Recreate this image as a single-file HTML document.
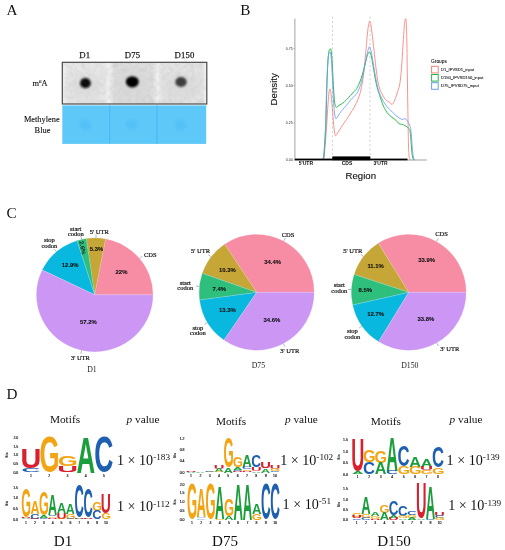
<!DOCTYPE html>
<html lang="en"><head><meta charset="utf-8"><title>Figure</title>
<style>
html,body{margin:0;padding:0;background:#fff;}
body{width:505px;height:550px;overflow:hidden;font-family:"Liberation Serif",serif;}
svg{display:block;}
text{white-space:pre;}
</style></head><body>
<svg width="505" height="550" viewBox="0 0 505 550">
<rect width="505" height="550" fill="#ffffff"/>
<text x="6.50" y="15.00" font-size="15.2" font-family="Liberation Serif, serif" text-anchor="start" font-weight="normal" fill="#111" >A</text>
<text x="240.20" y="15.00" font-size="15.2" font-family="Liberation Serif, serif" text-anchor="start" font-weight="normal" fill="#111" >B</text>
<text x="6.50" y="217.90" font-size="15.2" font-family="Liberation Serif, serif" text-anchor="start" font-weight="normal" fill="#111" >C</text>
<text x="6.40" y="399.30" font-size="15.2" font-family="Liberation Serif, serif" text-anchor="start" font-weight="normal" fill="#111" >D</text>
<defs>
<filter id="blur1" x="-50%" y="-50%" width="200%" height="200%"><feGaussianBlur stdDeviation="0.9"/></filter>
<filter id="blur2" x="-50%" y="-50%" width="200%" height="200%"><feGaussianBlur stdDeviation="1.6"/></filter>
<filter id="blur3" x="-50%" y="-50%" width="200%" height="200%"><feGaussianBlur stdDeviation="3"/></filter>
<linearGradient id="pg" x1="0" x2="1" y1="0" y2="0">
<stop offset="0" stop-color="#ffffff"/><stop offset="0.1" stop-color="#ffffff" stop-opacity="0"/><stop offset="0.9" stop-color="#ffffff" stop-opacity="0"/><stop offset="1" stop-color="#ffffff"/>
</linearGradient>
<filter id="noise" x="0" y="0" width="100%" height="100%"><feTurbulence type="fractalNoise" baseFrequency="0.22" numOctaves="3" seed="7"/><feColorMatrix type="matrix" values="0 0 0 0 0.45  0 0 0 0 0.45  0 0 0 0 0.45  0 0 0 1.1 -0.42"/></filter>
<clipPath id="blotclip"><rect x="62.8" y="62.6" width="143.6" height="40.8"/></clipPath>
</defs>
<rect x="62.3" y="62.3" width="144.5" height="41.7" fill="#e3e3e3"/>
<rect x="62.3" y="62.3" width="47.5" height="41.7" fill="#e7e7e7"/>
<rect x="62.3" y="62.3" width="47.5" height="41.7" fill="url(#pg)" opacity="0.55"/>
<rect x="109.8" y="62.3" width="47.10000000000001" height="41.7" fill="#dcdcdc"/>
<rect x="109.8" y="62.3" width="47.10000000000001" height="41.7" fill="url(#pg)" opacity="0.55"/>
<rect x="156.9" y="62.3" width="49.900000000000006" height="41.7" fill="#e3e3e3"/>
<rect x="156.9" y="62.3" width="49.900000000000006" height="41.7" fill="url(#pg)" opacity="0.55"/>
<g clip-path="url(#blotclip)">
<rect x="62.3" y="62.3" width="144.5" height="41.7" filter="url(#noise)" opacity="0.5"/>
<ellipse cx="85.3" cy="86.8" rx="17" ry="13" fill="#d6d6d6" opacity="0.55" filter="url(#blur3)"/>
<ellipse cx="132.4" cy="85.9" rx="17" ry="13" fill="#d6d6d6" opacity="0.55" filter="url(#blur3)"/>
<ellipse cx="181.8" cy="86.4" rx="17" ry="13" fill="#d6d6d6" opacity="0.55" filter="url(#blur3)"/>
<ellipse cx="85.4" cy="83.2" rx="5.4" ry="5.1" fill="#0c0c0c" filter="url(#blur1)"/>
<ellipse cx="132.3" cy="81.8" rx="6.5" ry="5.6" fill="#050505" filter="url(#blur1)"/>
<ellipse cx="181.0" cy="82.0" rx="5.7" ry="5.0" fill="#3c3c3c" filter="url(#blur1)"/>
</g>
<rect x="62.3" y="62.3" width="144.5" height="41.7" fill="none" stroke="#444" stroke-width="1.15"/>
<rect x="62.3" y="105.4" width="143.89999999999998" height="38.5" fill="#5ec8f9"/>
<line x1="109.8" y1="105.4" x2="109.8" y2="143.9" stroke="#3fb0ee" stroke-width="0.7"/>
<line x1="156.9" y1="105.4" x2="156.9" y2="143.9" stroke="#3fb0ee" stroke-width="0.7"/>
<ellipse cx="85.4" cy="125.0" rx="6.0" ry="5.6" fill="#4fbdf5" opacity="0.6" filter="url(#blur1)"/>
<ellipse cx="131.5" cy="124.4" rx="6.0" ry="5.6" fill="#4fbdf5" opacity="0.6" filter="url(#blur1)"/>
<ellipse cx="180.4" cy="125.0" rx="6.0" ry="5.6" fill="#4fbdf5" opacity="0.6" filter="url(#blur1)"/>
<text x="84.80" y="57.80" font-size="8.7" font-family="Liberation Serif, serif" text-anchor="middle" font-weight="normal" fill="#1a1a1a" stroke="#1a1a1a" stroke-width="0.25" letter-spacing="0.2">D1</text>
<text x="132.50" y="57.80" font-size="8.7" font-family="Liberation Serif, serif" text-anchor="middle" font-weight="normal" fill="#1a1a1a" stroke="#1a1a1a" stroke-width="0.25" letter-spacing="0.2">D75</text>
<text x="184.60" y="57.80" font-size="8.7" font-family="Liberation Serif, serif" text-anchor="middle" font-weight="normal" fill="#1a1a1a" stroke="#1a1a1a" stroke-width="0.25" letter-spacing="0.2">D150</text>
<text x="32.4" y="85.8" font-size="8.4" font-family="Liberation Serif, serif" fill="#111" stroke="#111" stroke-width="0.12">m<tspan font-size="5" dy="-3">6</tspan><tspan dy="3">A</tspan></text>
<text x="41.80" y="122.20" font-size="8.4" font-family="Liberation Serif, serif" text-anchor="middle" font-weight="normal" fill="#111" stroke="#111" stroke-width="0.12">Methylene</text>
<text x="42.50" y="133.20" font-size="8.4" font-family="Liberation Serif, serif" text-anchor="middle" font-weight="normal" fill="#111" stroke="#111" stroke-width="0.12">Blue</text>
<line x1="294.9" y1="18.7" x2="294.9" y2="160.3" stroke="#8a8a8a" stroke-width="0.8"/>
<line x1="294.9" y1="160.0" x2="426.8" y2="160.0" stroke="#8a8a8a" stroke-width="0.8"/>
<line x1="332.5" y1="16.5" x2="332.5" y2="160.0" stroke="#b5b5b5" stroke-width="0.6" stroke-dasharray="2.2 2.2"/>
<line x1="370.0" y1="16.5" x2="370.0" y2="160.0" stroke="#b5b5b5" stroke-width="0.6" stroke-dasharray="2.2 2.2"/>
<text x="292.60" y="49.65" font-size="3.5" font-family="Liberation Sans, sans-serif" text-anchor="end" font-weight="normal" fill="#222" >0.75</text>
<line x1="293.3" y1="48.4" x2="294.9" y2="48.4" stroke="#666" stroke-width="0.4"/>
<text x="292.60" y="86.85" font-size="3.5" font-family="Liberation Sans, sans-serif" text-anchor="end" font-weight="normal" fill="#222" >0.50</text>
<line x1="293.3" y1="85.6" x2="294.9" y2="85.6" stroke="#666" stroke-width="0.4"/>
<text x="292.60" y="124.05" font-size="3.5" font-family="Liberation Sans, sans-serif" text-anchor="end" font-weight="normal" fill="#222" >0.25</text>
<line x1="293.3" y1="122.8" x2="294.9" y2="122.8" stroke="#666" stroke-width="0.4"/>
<text x="292.60" y="161.25" font-size="3.5" font-family="Liberation Sans, sans-serif" text-anchor="end" font-weight="normal" fill="#222" >0.00</text>
<line x1="293.3" y1="160.0" x2="294.9" y2="160.0" stroke="#666" stroke-width="0.4"/>
<path d="M323.30,160.00 C323.45,159.33 323.87,158.83 324.20,156.00 C324.53,153.17 324.90,147.93 325.30,143.00 C325.70,138.07 326.15,132.90 326.60,126.40 C327.05,119.90 327.60,109.73 328.00,104.00 C328.40,98.27 328.70,94.50 329.00,92.00 C329.30,89.50 329.52,89.08 329.80,89.00 C330.08,88.92 330.33,89.00 330.70,91.50 C331.07,94.00 331.52,98.58 332.00,104.00 C332.48,109.42 333.13,119.08 333.60,124.00 C334.07,128.92 334.45,131.53 334.80,133.50 C335.15,135.47 335.33,135.72 335.70,135.80 C336.07,135.88 336.37,134.97 337.00,134.00 C337.63,133.03 338.53,131.53 339.50,130.00 C340.47,128.47 341.63,126.55 342.80,124.80 C343.97,123.05 345.22,121.43 346.50,119.50 C347.78,117.57 349.28,115.12 350.50,113.20 C351.72,111.28 352.77,109.80 353.80,108.00 C354.83,106.20 355.83,104.32 356.70,102.40 C357.57,100.48 358.22,98.95 359.00,96.50 C359.78,94.05 360.65,91.28 361.40,87.70 C362.15,84.12 362.82,80.45 363.50,75.00 C364.18,69.55 364.83,62.00 365.50,55.00 C366.17,48.00 366.95,38.25 367.50,33.00 C368.05,27.75 368.43,25.45 368.80,23.50 C369.17,21.55 369.40,21.30 369.70,21.30 C370.00,21.30 370.22,21.55 370.60,23.50 C370.98,25.45 371.43,28.58 372.00,33.00 C372.57,37.42 373.33,44.17 374.00,50.00 C374.67,55.83 375.33,62.67 376.00,68.00 C376.67,73.33 377.33,78.42 378.00,82.00 C378.67,85.58 379.33,87.52 380.00,89.50 C380.67,91.48 381.25,92.45 382.00,93.90 C382.75,95.35 383.73,97.08 384.50,98.20 C385.27,99.32 385.98,100.10 386.60,100.60 C387.22,101.10 387.70,100.93 388.20,101.20 C388.70,101.47 389.13,101.77 389.60,102.20 C390.07,102.63 390.57,103.45 391.00,103.80 C391.43,104.15 391.77,104.52 392.20,104.30 C392.63,104.08 392.98,103.72 393.60,102.50 C394.22,101.28 395.17,99.00 395.90,97.00 C396.63,95.00 397.35,92.67 398.00,90.50 C398.65,88.33 399.22,87.75 399.80,84.00 C400.38,80.25 400.97,74.50 401.50,68.00 C402.03,61.50 402.53,52.00 403.00,45.00 C403.47,38.00 403.97,30.13 404.30,26.00 C404.63,21.87 404.80,21.37 405.00,20.20 C405.20,19.03 405.32,18.87 405.50,19.00 C405.68,19.13 405.88,17.50 406.10,21.00 C406.32,24.50 406.58,30.17 406.80,40.00 C407.02,49.83 407.20,66.90 407.40,80.00 C407.60,93.10 407.82,107.77 408.00,118.60 C408.18,129.43 408.33,138.93 408.50,145.00 C408.67,151.07 408.78,152.62 409.00,155.00 C409.22,157.38 409.50,158.47 409.80,159.30 C410.10,160.13 410.63,159.88 410.80,160.00" fill="none" stroke="#f57f78" stroke-width="0.85" stroke-linejoin="round"/>
<path d="M322.90,160.00 C323.07,159.33 323.57,158.83 323.90,156.00 C324.23,153.17 324.57,148.67 324.90,143.00 C325.23,137.33 325.57,131.50 325.90,122.00 C326.23,112.50 326.57,96.00 326.90,86.00 C327.23,76.00 327.57,67.75 327.90,62.00 C328.23,56.25 328.62,53.57 328.90,51.50 C329.18,49.43 329.38,50.05 329.60,49.60 C329.82,49.15 329.97,48.73 330.20,48.80 C330.43,48.87 330.72,48.47 331.00,50.00 C331.28,51.53 331.58,53.67 331.90,58.00 C332.22,62.33 332.57,70.00 332.90,76.00 C333.23,82.00 333.58,89.42 333.90,94.00 C334.22,98.58 334.50,101.37 334.80,103.50 C335.10,105.63 335.42,106.18 335.70,106.80 C335.98,107.42 336.12,107.28 336.50,107.20 C336.88,107.12 337.42,106.70 338.00,106.30 C338.58,105.90 339.20,105.32 340.00,104.80 C340.80,104.28 341.72,104.03 342.80,103.20 C343.88,102.37 345.22,101.08 346.50,99.80 C347.78,98.52 349.28,96.83 350.50,95.50 C351.72,94.17 352.77,92.97 353.80,91.80 C354.83,90.63 355.70,90.13 356.70,88.50 C357.70,86.87 358.83,84.42 359.80,82.00 C360.77,79.58 361.63,76.92 362.50,74.00 C363.37,71.08 364.25,67.42 365.00,64.50 C365.75,61.58 366.42,58.45 367.00,56.50 C367.58,54.55 368.12,53.55 368.50,52.80 C368.88,52.05 369.02,52.00 369.30,52.00 C369.58,52.00 369.83,51.97 370.20,52.80 C370.57,53.63 370.98,54.63 371.50,57.00 C372.02,59.37 372.63,63.17 373.30,67.00 C373.97,70.83 374.77,76.25 375.50,80.00 C376.23,83.75 377.00,86.92 377.70,89.50 C378.40,92.08 379.05,93.55 379.70,95.50 C380.35,97.45 380.97,99.40 381.60,101.20 C382.23,103.00 382.80,104.75 383.50,106.30 C384.20,107.85 385.02,109.22 385.80,110.50 C386.58,111.78 387.17,112.87 388.20,114.00 C389.23,115.13 390.72,116.27 392.00,117.30 C393.28,118.33 394.97,119.38 395.90,120.20 C396.83,121.02 397.08,121.62 397.60,122.20 C398.12,122.78 398.38,123.35 399.00,123.70 C399.62,124.05 400.53,124.12 401.30,124.30 C402.07,124.48 402.82,124.48 403.60,124.80 C404.38,125.12 405.22,125.68 406.00,126.20 C406.78,126.72 407.73,127.40 408.30,127.90 C408.87,128.40 409.10,128.60 409.40,129.20 C409.70,129.80 409.87,130.03 410.10,131.50 C410.33,132.97 410.58,135.58 410.80,138.00 C411.02,140.42 411.18,143.33 411.40,146.00 C411.62,148.67 411.82,151.83 412.10,154.00 C412.38,156.17 412.77,158.00 413.10,159.00 C413.43,160.00 413.93,159.83 414.10,160.00" fill="none" stroke="#22b845" stroke-width="0.95" stroke-linejoin="round"/>
<path d="M322.60,160.00 C322.77,159.33 323.27,158.83 323.60,156.00 C323.93,153.17 324.27,148.33 324.60,143.00 C324.93,137.67 325.27,132.83 325.60,124.00 C325.93,115.17 326.27,99.67 326.60,90.00 C326.93,80.33 327.27,71.92 327.60,66.00 C327.93,60.08 328.28,56.83 328.60,54.50 C328.92,52.17 329.18,52.25 329.50,52.00 C329.82,51.75 330.18,51.67 330.50,53.00 C330.82,54.33 331.08,55.83 331.40,60.00 C331.72,64.17 332.07,71.50 332.40,78.00 C332.73,84.50 333.07,93.33 333.40,99.00 C333.73,104.67 334.08,108.92 334.40,112.00 C334.72,115.08 335.03,116.38 335.30,117.50 C335.57,118.62 335.68,118.70 336.00,118.70 C336.32,118.70 336.62,118.37 337.20,117.50 C337.78,116.63 338.57,114.85 339.50,113.50 C340.43,112.15 341.63,110.78 342.80,109.40 C343.97,108.02 345.22,106.77 346.50,105.20 C347.78,103.63 349.28,101.40 350.50,100.00 C351.72,98.60 352.77,97.87 353.80,96.80 C354.83,95.73 355.83,94.90 356.70,93.60 C357.57,92.30 358.32,90.60 359.00,89.00 C359.68,87.40 360.13,86.33 360.80,84.00 C361.47,81.67 362.22,78.58 363.00,75.00 C363.78,71.42 364.75,66.25 365.50,62.50 C366.25,58.75 366.97,54.92 367.50,52.50 C368.03,50.08 368.38,48.95 368.70,48.00 C369.02,47.05 369.15,46.80 369.40,46.80 C369.65,46.80 369.85,46.97 370.20,48.00 C370.55,49.03 370.95,50.17 371.50,53.00 C372.05,55.83 372.73,60.50 373.50,65.00 C374.27,69.50 375.30,75.92 376.10,80.00 C376.90,84.08 377.57,86.92 378.30,89.50 C379.03,92.08 379.63,93.50 380.50,95.50 C381.37,97.50 382.48,99.70 383.50,101.50 C384.52,103.30 385.57,104.98 386.60,106.30 C387.63,107.62 388.67,108.35 389.70,109.40 C390.73,110.45 391.77,111.58 392.80,112.60 C393.83,113.62 394.87,114.63 395.90,115.50 C396.93,116.37 397.97,117.15 399.00,117.80 C400.03,118.45 401.30,119.20 402.10,119.40 C402.90,119.60 403.28,119.13 403.80,119.00 C404.32,118.87 404.70,118.43 405.20,118.60 C405.70,118.77 406.28,119.35 406.80,120.00 C407.32,120.65 407.83,121.67 408.30,122.50 C408.77,123.33 409.22,124.00 409.60,125.00 C409.98,126.00 410.30,126.67 410.60,128.50 C410.90,130.33 411.15,133.08 411.40,136.00 C411.65,138.92 411.85,143.00 412.10,146.00 C412.35,149.00 412.58,151.83 412.90,154.00 C413.22,156.17 413.65,158.00 414.00,159.00 C414.35,160.00 414.83,159.83 415.00,160.00" fill="none" stroke="#6a9df5" stroke-width="0.85" stroke-linejoin="round"/>
<rect x="294.9" y="158.6" width="112.60000000000002" height="1.7" fill="#000"/>
<rect x="332.3" y="156.4" width="38.0" height="3.8" fill="#000"/>
<text x="305.90" y="165.30" font-size="5.0" font-family="Liberation Sans, sans-serif" text-anchor="middle" font-weight="bold" fill="#111" >5'UTR</text>
<text x="347.00" y="165.30" font-size="5.0" font-family="Liberation Sans, sans-serif" text-anchor="middle" font-weight="bold" fill="#111" >CDS</text>
<text x="380.50" y="165.30" font-size="5.0" font-family="Liberation Sans, sans-serif" text-anchor="middle" font-weight="bold" fill="#111" >3'UTR</text>
<text x="360.80" y="179.30" font-size="9.6" font-family="Liberation Sans, sans-serif" text-anchor="middle" font-weight="normal" fill="#111" stroke="#111" stroke-width="0.12">Region</text>
<text transform="translate(276.7,89.3) rotate(-90)" font-size="9.7" font-family="Liberation Sans, sans-serif" text-anchor="middle" fill="#111" stroke="#111" stroke-width="0.12">Density</text>
<text x="431.00" y="62.70" font-size="4.85" font-family="Liberation Sans, sans-serif" text-anchor="start" font-weight="normal" fill="#111" stroke="#111" stroke-width="0.08">Groups</text>
<rect x="431.6" y="66.3" width="6.6" height="6.6" fill="#fff" stroke="#f57f78" stroke-width="1.0"/>
<text x="441.00" y="71.00" font-size="4.1" font-family="Liberation Sans, sans-serif" text-anchor="start" font-weight="normal" fill="#111" stroke="#111" stroke-width="0.08">D1_IPVSD1_input</text>
<rect x="431.6" y="74.5" width="6.6" height="6.6" fill="#fff" stroke="#22b845" stroke-width="1.0"/>
<text x="441.00" y="79.20" font-size="4.1" font-family="Liberation Sans, sans-serif" text-anchor="start" font-weight="normal" fill="#111" stroke="#111" stroke-width="0.08">D150_IPVSD150_input</text>
<rect x="431.6" y="82.69999999999999" width="6.6" height="6.6" fill="#fff" stroke="#6a9df5" stroke-width="1.0"/>
<text x="441.00" y="87.40" font-size="4.1" font-family="Liberation Sans, sans-serif" text-anchor="start" font-weight="normal" fill="#111" stroke="#111" stroke-width="0.08">D75_IPVSD75_input</text>
<path d="M94.7,294.85 L152.90,294.85 A58.2,56.8 0 0 0 105.61,239.06 Z" fill="#f78ca5" stroke="#f78ca5" stroke-width="0.25" stroke-linejoin="round"/>
<path d="M94.7,294.85 L105.61,239.06 A58.2,56.8 0 0 0 86.32,238.64 Z" fill="#c5a637" stroke="#c5a637" stroke-width="0.25" stroke-linejoin="round"/>
<path d="M94.7,294.85 L86.32,238.64 A58.2,56.8 0 0 0 77.06,240.72 Z" fill="#2fbf7d" stroke="#2fbf7d" stroke-width="0.25" stroke-linejoin="round"/>
<path d="M94.7,294.85 L77.06,240.72 A58.2,56.8 0 0 0 42.35,270.02 Z" fill="#08b8de" stroke="#08b8de" stroke-width="0.25" stroke-linejoin="round"/>
<path d="M94.7,294.85 L42.35,270.02 A58.2,56.8 0 1 0 152.90,294.85 Z" fill="#cb96f4" stroke="#cb96f4" stroke-width="0.25" stroke-linejoin="round"/>
<line x1="94.7" y1="294.85" x2="152.90" y2="294.85" stroke="#fbeef2" stroke-opacity="0.75" stroke-width="0.4"/>
<line x1="94.7" y1="294.85" x2="105.61" y2="239.06" stroke="#fbeef2" stroke-opacity="0.75" stroke-width="0.4"/>
<line x1="94.7" y1="294.85" x2="86.32" y2="238.64" stroke="#fbeef2" stroke-opacity="0.75" stroke-width="0.4"/>
<line x1="94.7" y1="294.85" x2="77.06" y2="240.72" stroke="#fbeef2" stroke-opacity="0.75" stroke-width="0.4"/>
<line x1="94.7" y1="294.85" x2="42.35" y2="270.02" stroke="#fbeef2" stroke-opacity="0.75" stroke-width="0.4"/>
<line x1="139.85" y1="258.39" x2="142.32" y2="256.35" stroke="#444" stroke-width="0.4"/>
<line x1="95.99" y1="237.66" x2="96.06" y2="234.46" stroke="#444" stroke-width="0.4"/>
<line x1="81.56" y1="239.11" x2="80.84" y2="235.99" stroke="#444" stroke-width="0.4"/>
<line x1="56.36" y1="251.59" x2="54.27" y2="249.17" stroke="#444" stroke-width="0.4"/>
<line x1="81.56" y1="350.59" x2="80.84" y2="353.71" stroke="#444" stroke-width="0.4"/>
<text x="150.30" y="256.84" font-size="6.5" font-family="Liberation Serif, serif" text-anchor="middle" font-weight="normal" fill="#1a1a1a" stroke="#1a1a1a" stroke-width="0.22">CDS</text>
<text x="99.30" y="234.05" font-size="6.5" font-family="Liberation Serif, serif" text-anchor="middle" font-weight="normal" fill="#1a1a1a" stroke="#1a1a1a" stroke-width="0.22">5' UTR</text>
<text x="75.70" y="231.25" font-size="6.5" font-family="Liberation Serif, serif" text-anchor="middle" font-weight="normal" fill="#1a1a1a" stroke="#1a1a1a" stroke-width="0.22">start</text>
<text x="75.70" y="235.75" font-size="6.5" font-family="Liberation Serif, serif" text-anchor="middle" font-weight="normal" fill="#1a1a1a" stroke="#1a1a1a" stroke-width="0.22">codon</text>
<text x="49.40" y="242.34" font-size="6.5" font-family="Liberation Serif, serif" text-anchor="middle" font-weight="normal" fill="#1a1a1a" stroke="#1a1a1a" stroke-width="0.22">stop</text>
<text x="49.40" y="247.95" font-size="6.5" font-family="Liberation Serif, serif" text-anchor="middle" font-weight="normal" fill="#1a1a1a" stroke="#1a1a1a" stroke-width="0.22">codon</text>
<text x="80.40" y="360.04" font-size="6.5" font-family="Liberation Serif, serif" text-anchor="middle" font-weight="normal" fill="#1a1a1a" stroke="#1a1a1a" stroke-width="0.22">3' UTR</text>
<text x="91.90" y="372.40" font-size="7.8" font-family="Liberation Serif, serif" text-anchor="middle" font-weight="normal" fill="#222" >D1</text>
<text x="121.50" y="274.22" font-size="5.9" font-family="Liberation Sans, sans-serif" text-anchor="middle" font-weight="bold" fill="#111" stroke="#111" stroke-width="0.1">22%</text>
<text x="96.50" y="251.22" font-size="5.9" font-family="Liberation Sans, sans-serif" text-anchor="middle" font-weight="bold" fill="#111" stroke="#111" stroke-width="0.1">5.3%</text>
<text transform="translate(82.7,247.7) rotate(78)" y="2.12" font-size="5.9" font-family="Liberation Sans, sans-serif" text-anchor="middle" font-weight="bold" fill="#1a1a1a">2.6%</text>
<text x="70.20" y="266.52" font-size="5.9" font-family="Liberation Sans, sans-serif" text-anchor="middle" font-weight="bold" fill="#111" stroke="#111" stroke-width="0.1">12.9%</text>
<text x="88.40" y="324.32" font-size="5.9" font-family="Liberation Sans, sans-serif" text-anchor="middle" font-weight="bold" fill="#111" stroke="#111" stroke-width="0.1">57.2%</text>
<path d="M256.65,292.3 L314.05,292.30 A57.4,57.9 0 0 0 224.69,244.21 Z" fill="#f78ca5" stroke="#f78ca5" stroke-width="0.25" stroke-linejoin="round"/>
<path d="M256.65,292.3 L224.69,244.21 A57.4,57.9 0 0 0 202.40,273.37 Z" fill="#c5a637" stroke="#c5a637" stroke-width="0.25" stroke-linejoin="round"/>
<path d="M256.65,292.3 L202.40,273.37 A57.4,57.9 0 0 0 199.75,299.92 Z" fill="#2fbf7d" stroke="#2fbf7d" stroke-width="0.25" stroke-linejoin="round"/>
<path d="M256.65,292.3 L199.75,299.92 A57.4,57.9 0 0 0 224.09,339.98 Z" fill="#08b8de" stroke="#08b8de" stroke-width="0.25" stroke-linejoin="round"/>
<path d="M256.65,292.3 L224.09,339.98 A57.4,57.9 0 0 0 314.05,292.30 Z" fill="#cb96f4" stroke="#cb96f4" stroke-width="0.25" stroke-linejoin="round"/>
<line x1="256.65" y1="292.3" x2="314.05" y2="292.30" stroke="#fbeef2" stroke-opacity="0.75" stroke-width="0.4"/>
<line x1="256.65" y1="292.3" x2="224.69" y2="244.21" stroke="#fbeef2" stroke-opacity="0.75" stroke-width="0.4"/>
<line x1="256.65" y1="292.3" x2="202.40" y2="273.37" stroke="#fbeef2" stroke-opacity="0.75" stroke-width="0.4"/>
<line x1="256.65" y1="292.3" x2="199.75" y2="299.92" stroke="#fbeef2" stroke-opacity="0.75" stroke-width="0.4"/>
<line x1="256.65" y1="292.3" x2="224.09" y2="339.98" stroke="#fbeef2" stroke-opacity="0.75" stroke-width="0.4"/>
<line x1="283.86" y1="240.86" x2="285.36" y2="238.04" stroke="#444" stroke-width="0.4"/>
<line x1="210.87" y1="256.71" x2="208.33" y2="254.76" stroke="#444" stroke-width="0.4"/>
<line x1="199.14" y1="286.45" x2="195.96" y2="286.13" stroke="#444" stroke-width="0.4"/>
<line x1="207.37" y1="322.76" x2="204.64" y2="324.43" stroke="#444" stroke-width="0.4"/>
<line x1="283.54" y1="343.91" x2="285.02" y2="346.74" stroke="#444" stroke-width="0.4"/>
<text x="288.00" y="237.45" font-size="6.5" font-family="Liberation Serif, serif" text-anchor="middle" font-weight="normal" fill="#1a1a1a" stroke="#1a1a1a" stroke-width="0.22">CDS</text>
<text x="200.60" y="252.75" font-size="6.5" font-family="Liberation Serif, serif" text-anchor="middle" font-weight="normal" fill="#1a1a1a" stroke="#1a1a1a" stroke-width="0.22">5' UTR</text>
<text x="185.30" y="284.84" font-size="6.5" font-family="Liberation Serif, serif" text-anchor="middle" font-weight="normal" fill="#1a1a1a" stroke="#1a1a1a" stroke-width="0.22">start</text>
<text x="185.30" y="289.84" font-size="6.5" font-family="Liberation Serif, serif" text-anchor="middle" font-weight="normal" fill="#1a1a1a" stroke="#1a1a1a" stroke-width="0.22">codon</text>
<text x="197.80" y="330.14" font-size="6.5" font-family="Liberation Serif, serif" text-anchor="middle" font-weight="normal" fill="#1a1a1a" stroke="#1a1a1a" stroke-width="0.22">stop</text>
<text x="197.80" y="335.44" font-size="6.5" font-family="Liberation Serif, serif" text-anchor="middle" font-weight="normal" fill="#1a1a1a" stroke="#1a1a1a" stroke-width="0.22">codon</text>
<text x="289.70" y="352.75" font-size="6.5" font-family="Liberation Serif, serif" text-anchor="middle" font-weight="normal" fill="#1a1a1a" stroke="#1a1a1a" stroke-width="0.22">3' UTR</text>
<text x="258.40" y="368.20" font-size="7.8" font-family="Liberation Serif, serif" text-anchor="middle" font-weight="normal" fill="#222" >D75</text>
<text x="272.60" y="264.12" font-size="5.9" font-family="Liberation Sans, sans-serif" text-anchor="middle" font-weight="bold" fill="#111" stroke="#111" stroke-width="0.1">34.4%</text>
<text x="227.40" y="272.02" font-size="5.9" font-family="Liberation Sans, sans-serif" text-anchor="middle" font-weight="bold" fill="#111" stroke="#111" stroke-width="0.1">10.3%</text>
<text x="219.20" y="290.82" font-size="5.9" font-family="Liberation Sans, sans-serif" text-anchor="middle" font-weight="bold" fill="#111" stroke="#111" stroke-width="0.1">7.4%</text>
<text x="227.40" y="311.52" font-size="5.9" font-family="Liberation Sans, sans-serif" text-anchor="middle" font-weight="bold" fill="#111" stroke="#111" stroke-width="0.1">13.3%</text>
<text x="271.90" y="321.92" font-size="5.9" font-family="Liberation Sans, sans-serif" text-anchor="middle" font-weight="bold" fill="#111" stroke="#111" stroke-width="0.1">34.6%</text>
<path d="M408.75,292.3 L466.05,292.30 A57.3,57.9 0 0 0 378.35,243.22 Z" fill="#f78ca5" stroke="#f78ca5" stroke-width="0.25" stroke-linejoin="round"/>
<path d="M408.75,292.3 L378.35,243.22 A57.3,57.9 0 0 0 354.25,274.41 Z" fill="#c5a637" stroke="#c5a637" stroke-width="0.25" stroke-linejoin="round"/>
<path d="M408.75,292.3 L354.25,274.41 A57.3,57.9 0 0 0 352.83,304.93 Z" fill="#2fbf7d" stroke="#2fbf7d" stroke-width="0.25" stroke-linejoin="round"/>
<path d="M408.75,292.3 L352.83,304.93 A57.3,57.9 0 0 0 378.66,341.57 Z" fill="#08b8de" stroke="#08b8de" stroke-width="0.25" stroke-linejoin="round"/>
<path d="M408.75,292.3 L378.66,341.57 A57.3,57.9 0 0 0 466.05,292.30 Z" fill="#cb96f4" stroke="#cb96f4" stroke-width="0.25" stroke-linejoin="round"/>
<line x1="408.75" y1="292.3" x2="466.05" y2="292.30" stroke="#fbeef2" stroke-opacity="0.75" stroke-width="0.4"/>
<line x1="408.75" y1="292.3" x2="378.35" y2="243.22" stroke="#fbeef2" stroke-opacity="0.75" stroke-width="0.4"/>
<line x1="408.75" y1="292.3" x2="354.25" y2="274.41" stroke="#fbeef2" stroke-opacity="0.75" stroke-width="0.4"/>
<line x1="408.75" y1="292.3" x2="352.83" y2="304.93" stroke="#fbeef2" stroke-opacity="0.75" stroke-width="0.4"/>
<line x1="408.75" y1="292.3" x2="378.66" y2="341.57" stroke="#fbeef2" stroke-opacity="0.75" stroke-width="0.4"/>
<line x1="436.71" y1="241.30" x2="438.26" y2="238.50" stroke="#444" stroke-width="0.4"/>
<line x1="363.27" y1="256.42" x2="360.75" y2="254.45" stroke="#444" stroke-width="0.4"/>
<line x1="351.11" y1="289.55" x2="347.92" y2="289.40" stroke="#444" stroke-width="0.4"/>
<line x1="361.75" y1="326.12" x2="359.15" y2="327.98" stroke="#444" stroke-width="0.4"/>
<line x1="436.86" y1="343.21" x2="438.42" y2="346.01" stroke="#444" stroke-width="0.4"/>
<text x="441.50" y="236.34" font-size="6.5" font-family="Liberation Serif, serif" text-anchor="middle" font-weight="normal" fill="#1a1a1a" stroke="#1a1a1a" stroke-width="0.22">CDS</text>
<text x="352.80" y="252.75" font-size="6.5" font-family="Liberation Serif, serif" text-anchor="middle" font-weight="normal" fill="#1a1a1a" stroke="#1a1a1a" stroke-width="0.22">5' UTR</text>
<text x="339.30" y="287.34" font-size="6.5" font-family="Liberation Serif, serif" text-anchor="middle" font-weight="normal" fill="#1a1a1a" stroke="#1a1a1a" stroke-width="0.22">start</text>
<text x="339.30" y="292.64" font-size="6.5" font-family="Liberation Serif, serif" text-anchor="middle" font-weight="normal" fill="#1a1a1a" stroke="#1a1a1a" stroke-width="0.22">codon</text>
<text x="352.40" y="332.94" font-size="6.5" font-family="Liberation Serif, serif" text-anchor="middle" font-weight="normal" fill="#1a1a1a" stroke="#1a1a1a" stroke-width="0.22">stop</text>
<text x="352.40" y="339.04" font-size="6.5" font-family="Liberation Serif, serif" text-anchor="middle" font-weight="normal" fill="#1a1a1a" stroke="#1a1a1a" stroke-width="0.22">codon</text>
<text x="449.70" y="350.75" font-size="6.5" font-family="Liberation Serif, serif" text-anchor="middle" font-weight="normal" fill="#1a1a1a" stroke="#1a1a1a" stroke-width="0.22">3' UTR</text>
<text x="409.80" y="368.20" font-size="7.8" font-family="Liberation Serif, serif" text-anchor="middle" font-weight="normal" fill="#222" >D150</text>
<text x="426.60" y="262.32" font-size="5.9" font-family="Liberation Sans, sans-serif" text-anchor="middle" font-weight="bold" fill="#111" stroke="#111" stroke-width="0.1">33.9%</text>
<text x="375.60" y="267.72" font-size="5.9" font-family="Liberation Sans, sans-serif" text-anchor="middle" font-weight="bold" fill="#111" stroke="#111" stroke-width="0.1">11.1%</text>
<text x="365.30" y="291.62" font-size="5.9" font-family="Liberation Sans, sans-serif" text-anchor="middle" font-weight="bold" fill="#111" stroke="#111" stroke-width="0.1">8.5%</text>
<text x="375.60" y="315.82" font-size="5.9" font-family="Liberation Sans, sans-serif" text-anchor="middle" font-weight="bold" fill="#111" stroke="#111" stroke-width="0.1">12.7%</text>
<text x="425.90" y="321.12" font-size="5.9" font-family="Liberation Sans, sans-serif" text-anchor="middle" font-weight="bold" fill="#111" stroke="#111" stroke-width="0.1">33.8%</text>
<text transform="translate(20.62,468.22) scale(2.886,2.751)" font-size="10.0" font-family="Liberation Sans, sans-serif" font-weight="bold" fill="#d8202f">U</text>
<text transform="translate(21.27,472.44) scale(2.653,0.567)" font-size="10.0" font-family="Liberation Sans, sans-serif" font-weight="bold" fill="#1f5fb0">C</text>
<text x="31.03" y="477.30" font-size="3.5" font-family="Liberation Sans, sans-serif" text-anchor="middle" font-weight="normal" fill="#111" stroke="#111" stroke-width="0.15">1</text>
<text transform="translate(39.56,472.02) scale(2.571,4.929)" font-size="10.0" font-family="Liberation Sans, sans-serif" font-weight="bold" fill="#f2a413">G</text>
<text x="49.29" y="477.30" font-size="3.5" font-family="Liberation Sans, sans-serif" text-anchor="middle" font-weight="normal" fill="#111" stroke="#111" stroke-width="0.15">2</text>
<text transform="translate(57.82,466.43) scale(2.571,1.393)" font-size="10.0" font-family="Liberation Sans, sans-serif" font-weight="bold" fill="#f2a413">G</text>
<text transform="translate(57.14,472.42) scale(2.886,0.850)" font-size="10.0" font-family="Liberation Sans, sans-serif" font-weight="bold" fill="#d8202f">U</text>
<text x="67.55" y="477.30" font-size="3.5" font-family="Liberation Sans, sans-serif" text-anchor="middle" font-weight="normal" fill="#111" stroke="#111" stroke-width="0.15">3</text>
<text transform="translate(76.49,472.50) scale(2.586,5.073)" font-size="10.0" font-family="Liberation Sans, sans-serif" font-weight="bold" fill="#1a9e3c">A</text>
<text x="85.81" y="477.30" font-size="3.5" font-family="Liberation Sans, sans-serif" text-anchor="middle" font-weight="normal" fill="#111" stroke="#111" stroke-width="0.15">4</text>
<text transform="translate(94.31,472.02) scale(2.653,4.929)" font-size="10.0" font-family="Liberation Sans, sans-serif" font-weight="bold" fill="#1f5fb0">C</text>
<text x="104.07" y="477.30" font-size="3.5" font-family="Liberation Sans, sans-serif" text-anchor="middle" font-weight="normal" fill="#111" stroke="#111" stroke-width="0.15">5</text>
<text x="18.30" y="438.80" font-size="3.5" font-family="Liberation Sans, sans-serif" text-anchor="end" font-weight="normal" fill="#111" stroke="#111" stroke-width="0.15">2.0</text>
<text x="18.30" y="447.53" font-size="3.5" font-family="Liberation Sans, sans-serif" text-anchor="end" font-weight="normal" fill="#111" stroke="#111" stroke-width="0.15">1.5</text>
<text x="18.30" y="456.25" font-size="3.5" font-family="Liberation Sans, sans-serif" text-anchor="end" font-weight="normal" fill="#111" stroke="#111" stroke-width="0.15">1.0</text>
<text x="18.30" y="464.97" font-size="3.5" font-family="Liberation Sans, sans-serif" text-anchor="end" font-weight="normal" fill="#111" stroke="#111" stroke-width="0.15">0.5</text>
<text x="18.30" y="473.70" font-size="3.5" font-family="Liberation Sans, sans-serif" text-anchor="end" font-weight="normal" fill="#111" stroke="#111" stroke-width="0.15">0.0</text>
<text transform="translate(8.0,455.05) rotate(-90)" font-size="3.1" font-family="Liberation Sans, sans-serif" text-anchor="middle" fill="#111" stroke="#111" stroke-width="0.12">Bits</text>
<text transform="translate(21.31,516.89) scale(1.249,4.136)" font-size="10.0" font-family="Liberation Sans, sans-serif" font-weight="bold" fill="#f2a413">G</text>
<text transform="translate(20.98,518.34) scale(1.402,0.151)" font-size="10.0" font-family="Liberation Sans, sans-serif" font-weight="bold" fill="#d8202f">U</text>
<text transform="translate(21.51,519.30) scale(1.256,0.138)" font-size="10.0" font-family="Liberation Sans, sans-serif" font-weight="bold" fill="#1a9e3c">A</text>
<text x="26.04" y="523.70" font-size="3.5" font-family="Liberation Sans, sans-serif" text-anchor="middle" font-weight="normal" fill="#111" stroke="#111" stroke-width="0.15">1</text>
<text transform="translate(30.38,514.03) scale(1.256,1.837)" font-size="10.0" font-family="Liberation Sans, sans-serif" font-weight="bold" fill="#f2a413">A</text>
<text transform="translate(30.16,518.60) scale(1.289,0.655)" font-size="10.0" font-family="Liberation Sans, sans-serif" font-weight="bold" fill="#1f5fb0">C</text>
<text transform="translate(29.85,519.29) scale(1.402,0.091)" font-size="10.0" font-family="Liberation Sans, sans-serif" font-weight="bold" fill="#d8202f">U</text>
<text x="34.91" y="523.70" font-size="3.5" font-family="Liberation Sans, sans-serif" text-anchor="middle" font-weight="normal" fill="#111" stroke="#111" stroke-width="0.15">2</text>
<text transform="translate(39.05,515.39) scale(1.249,3.303)" font-size="10.0" font-family="Liberation Sans, sans-serif" font-weight="bold" fill="#f2a413">G</text>
<text transform="translate(39.25,518.04) scale(1.256,0.337)" font-size="10.0" font-family="Liberation Sans, sans-serif" font-weight="bold" fill="#1a9e3c">A</text>
<text transform="translate(39.03,519.28) scale(1.289,0.179)" font-size="10.0" font-family="Liberation Sans, sans-serif" font-weight="bold" fill="#1f5fb0">C</text>
<text x="43.78" y="523.70" font-size="3.5" font-family="Liberation Sans, sans-serif" text-anchor="middle" font-weight="normal" fill="#111" stroke="#111" stroke-width="0.15">3</text>
<text transform="translate(48.12,514.77) scale(1.256,2.878)" font-size="10.0" font-family="Liberation Sans, sans-serif" font-weight="bold" fill="#1a9e3c">A</text>
<text transform="translate(47.90,516.43) scale(1.289,0.238)" font-size="10.0" font-family="Liberation Sans, sans-serif" font-weight="bold" fill="#1f5fb0">C</text>
<text transform="translate(47.92,518.12) scale(1.249,0.238)" font-size="10.0" font-family="Liberation Sans, sans-serif" font-weight="bold" fill="#f2a413">G</text>
<text transform="translate(47.59,519.28) scale(1.402,0.166)" font-size="10.0" font-family="Liberation Sans, sans-serif" font-weight="bold" fill="#d8202f">U</text>
<text x="52.65" y="523.70" font-size="3.5" font-family="Liberation Sans, sans-serif" text-anchor="middle" font-weight="normal" fill="#111" stroke="#111" stroke-width="0.15">4</text>
<text transform="translate(56.99,512.77) scale(1.256,1.439)" font-size="10.0" font-family="Liberation Sans, sans-serif" font-weight="bold" fill="#1a9e3c">A</text>
<text transform="translate(56.46,518.59) scale(1.402,0.845)" font-size="10.0" font-family="Liberation Sans, sans-serif" font-weight="bold" fill="#d8202f">U</text>
<text transform="translate(56.79,519.29) scale(1.249,0.089)" font-size="10.0" font-family="Liberation Sans, sans-serif" font-weight="bold" fill="#f2a413">G</text>
<text x="61.52" y="523.70" font-size="3.5" font-family="Liberation Sans, sans-serif" text-anchor="middle" font-weight="normal" fill="#111" stroke="#111" stroke-width="0.15">5</text>
<text transform="translate(65.86,513.72) scale(1.256,1.439)" font-size="10.0" font-family="Liberation Sans, sans-serif" font-weight="bold" fill="#1a9e3c">A</text>
<text transform="translate(65.66,518.60) scale(1.249,0.699)" font-size="10.0" font-family="Liberation Sans, sans-serif" font-weight="bold" fill="#f2a413">G</text>
<text transform="translate(65.64,519.29) scale(1.289,0.089)" font-size="10.0" font-family="Liberation Sans, sans-serif" font-weight="bold" fill="#1f5fb0">C</text>
<text x="70.38" y="523.70" font-size="3.5" font-family="Liberation Sans, sans-serif" text-anchor="middle" font-weight="normal" fill="#111" stroke="#111" stroke-width="0.15">6</text>
<text transform="translate(74.51,517.27) scale(1.289,4.612)" font-size="10.0" font-family="Liberation Sans, sans-serif" font-weight="bold" fill="#1f5fb0">C</text>
<text transform="translate(74.20,518.55) scale(1.402,0.121)" font-size="10.0" font-family="Liberation Sans, sans-serif" font-weight="bold" fill="#d8202f">U</text>
<text transform="translate(74.73,519.30) scale(1.256,0.107)" font-size="10.0" font-family="Liberation Sans, sans-serif" font-weight="bold" fill="#1a9e3c">A</text>
<text x="79.25" y="523.70" font-size="3.5" font-family="Liberation Sans, sans-serif" text-anchor="middle" font-weight="normal" fill="#111" stroke="#111" stroke-width="0.15">7</text>
<text transform="translate(83.38,517.32) scale(1.289,4.056)" font-size="10.0" font-family="Liberation Sans, sans-serif" font-weight="bold" fill="#1f5fb0">C</text>
<text transform="translate(83.60,518.56) scale(1.256,0.122)" font-size="10.0" font-family="Liberation Sans, sans-serif" font-weight="bold" fill="#1a9e3c">A</text>
<text transform="translate(83.07,519.29) scale(1.402,0.106)" font-size="10.0" font-family="Liberation Sans, sans-serif" font-weight="bold" fill="#d8202f">U</text>
<text x="88.12" y="523.70" font-size="3.5" font-family="Liberation Sans, sans-serif" text-anchor="middle" font-weight="normal" fill="#111" stroke="#111" stroke-width="0.15">8</text>
<text transform="translate(92.27,510.67) scale(1.249,1.202)" font-size="10.0" font-family="Liberation Sans, sans-serif" font-weight="bold" fill="#f2a413">G</text>
<text transform="translate(92.25,519.18) scale(1.289,1.202)" font-size="10.0" font-family="Liberation Sans, sans-serif" font-weight="bold" fill="#1f5fb0">C</text>
<text x="97.00" y="523.70" font-size="3.5" font-family="Liberation Sans, sans-serif" text-anchor="middle" font-weight="normal" fill="#111" stroke="#111" stroke-width="0.15">9</text>
<text transform="translate(100.81,512.50) scale(1.402,2.753)" font-size="10.0" font-family="Liberation Sans, sans-serif" font-weight="bold" fill="#d8202f">U</text>
<text transform="translate(101.14,519.21) scale(1.249,0.922)" font-size="10.0" font-family="Liberation Sans, sans-serif" font-weight="bold" fill="#f2a413">G</text>
<text x="105.87" y="523.70" font-size="3.5" font-family="Liberation Sans, sans-serif" text-anchor="middle" font-weight="normal" fill="#111" stroke="#111" stroke-width="0.15">10</text>
<text x="18.00" y="488.90" font-size="3.5" font-family="Liberation Sans, sans-serif" text-anchor="end" font-weight="normal" fill="#111" stroke="#111" stroke-width="0.15">1.5</text>
<text x="18.00" y="499.43" font-size="3.5" font-family="Liberation Sans, sans-serif" text-anchor="end" font-weight="normal" fill="#111" stroke="#111" stroke-width="0.15">1.0</text>
<text x="18.00" y="509.97" font-size="3.5" font-family="Liberation Sans, sans-serif" text-anchor="end" font-weight="normal" fill="#111" stroke="#111" stroke-width="0.15">0.5</text>
<text x="18.00" y="520.50" font-size="3.5" font-family="Liberation Sans, sans-serif" text-anchor="end" font-weight="normal" fill="#111" stroke="#111" stroke-width="0.15">0.0</text>
<text transform="translate(8.0,503.50) rotate(-90)" font-size="3.1" font-family="Liberation Sans, sans-serif" text-anchor="middle" fill="#111" stroke="#111" stroke-width="0.12">Bits</text>
<text transform="translate(185.75,471.64) scale(1.473,0.121)" font-size="10.0" font-family="Liberation Sans, sans-serif" font-weight="bold" fill="#d8202f">U</text>
<text transform="translate(186.30,472.50) scale(1.320,0.123)" font-size="10.0" font-family="Liberation Sans, sans-serif" font-weight="bold" fill="#1a9e3c">A</text>
<text x="191.06" y="476.90" font-size="3.5" font-family="Liberation Sans, sans-serif" text-anchor="middle" font-weight="normal" fill="#111" stroke="#111" stroke-width="0.15">1</text>
<text transform="translate(195.62,472.50) scale(1.320,0.082)" font-size="10.0" font-family="Liberation Sans, sans-serif" font-weight="bold" fill="#1a9e3c">A</text>
<text x="200.38" y="476.90" font-size="3.5" font-family="Liberation Sans, sans-serif" text-anchor="middle" font-weight="normal" fill="#111" stroke="#111" stroke-width="0.15">2</text>
<text transform="translate(204.74,471.64) scale(1.312,0.119)" font-size="10.0" font-family="Liberation Sans, sans-serif" font-weight="bold" fill="#f2a413">G</text>
<text transform="translate(204.72,472.49) scale(1.354,0.119)" font-size="10.0" font-family="Liberation Sans, sans-serif" font-weight="bold" fill="#1f5fb0">C</text>
<text x="209.70" y="476.90" font-size="3.5" font-family="Liberation Sans, sans-serif" text-anchor="middle" font-weight="normal" fill="#111" stroke="#111" stroke-width="0.15">3</text>
<text transform="translate(213.71,468.50) scale(1.473,0.565)" font-size="10.0" font-family="Liberation Sans, sans-serif" font-weight="bold" fill="#d8202f">U</text>
<text transform="translate(214.26,471.94) scale(1.320,0.491)" font-size="10.0" font-family="Liberation Sans, sans-serif" font-weight="bold" fill="#1a9e3c">A</text>
<text transform="translate(214.06,472.49) scale(1.312,0.080)" font-size="10.0" font-family="Liberation Sans, sans-serif" font-weight="bold" fill="#f2a413">G</text>
<text x="219.02" y="476.90" font-size="3.5" font-family="Liberation Sans, sans-serif" text-anchor="middle" font-weight="normal" fill="#111" stroke="#111" stroke-width="0.15">4</text>
<text transform="translate(223.38,467.13) scale(1.312,4.257)" font-size="10.0" font-family="Liberation Sans, sans-serif" font-weight="bold" fill="#f2a413">G</text>
<text transform="translate(223.58,472.50) scale(1.320,0.721)" font-size="10.0" font-family="Liberation Sans, sans-serif" font-weight="bold" fill="#1a9e3c">A</text>
<text x="228.34" y="476.90" font-size="3.5" font-family="Liberation Sans, sans-serif" text-anchor="middle" font-weight="normal" fill="#111" stroke="#111" stroke-width="0.15">5</text>
<text transform="translate(232.70,467.39) scale(1.312,1.540)" font-size="10.0" font-family="Liberation Sans, sans-serif" font-weight="bold" fill="#f2a413">G</text>
<text transform="translate(232.90,469.80) scale(1.320,0.328)" font-size="10.0" font-family="Liberation Sans, sans-serif" font-weight="bold" fill="#1a9e3c">A</text>
<text transform="translate(232.68,471.46) scale(1.354,0.239)" font-size="10.0" font-family="Liberation Sans, sans-serif" font-weight="bold" fill="#1f5fb0">C</text>
<text transform="translate(232.35,472.49) scale(1.473,0.145)" font-size="10.0" font-family="Liberation Sans, sans-serif" font-weight="bold" fill="#d8202f">U</text>
<text x="237.66" y="476.90" font-size="3.5" font-family="Liberation Sans, sans-serif" text-anchor="middle" font-weight="normal" fill="#111" stroke="#111" stroke-width="0.15">6</text>
<text transform="translate(242.22,466.59) scale(1.320,1.584)" font-size="10.0" font-family="Liberation Sans, sans-serif" font-weight="bold" fill="#1a9e3c">A</text>
<text transform="translate(242.00,469.36) scale(1.354,0.398)" font-size="10.0" font-family="Liberation Sans, sans-serif" font-weight="bold" fill="#1f5fb0">C</text>
<text transform="translate(242.02,471.07) scale(1.312,0.239)" font-size="10.0" font-family="Liberation Sans, sans-serif" font-weight="bold" fill="#f2a413">G</text>
<text transform="translate(241.67,472.48) scale(1.473,0.202)" font-size="10.0" font-family="Liberation Sans, sans-serif" font-weight="bold" fill="#d8202f">U</text>
<text x="246.98" y="476.90" font-size="3.5" font-family="Liberation Sans, sans-serif" text-anchor="middle" font-weight="normal" fill="#111" stroke="#111" stroke-width="0.15">7</text>
<text transform="translate(251.32,467.27) scale(1.354,1.671)" font-size="10.0" font-family="Liberation Sans, sans-serif" font-weight="bold" fill="#1f5fb0">C</text>
<text transform="translate(250.99,470.76) scale(1.473,0.484)" font-size="10.0" font-family="Liberation Sans, sans-serif" font-weight="bold" fill="#d8202f">U</text>
<text transform="translate(251.54,472.50) scale(1.320,0.246)" font-size="10.0" font-family="Liberation Sans, sans-serif" font-weight="bold" fill="#1a9e3c">A</text>
<text x="256.30" y="476.90" font-size="3.5" font-family="Liberation Sans, sans-serif" text-anchor="middle" font-weight="normal" fill="#111" stroke="#111" stroke-width="0.15">8</text>
<text transform="translate(260.31,468.46) scale(1.473,0.993)" font-size="10.0" font-family="Liberation Sans, sans-serif" font-weight="bold" fill="#d8202f">U</text>
<text transform="translate(260.86,472.50) scale(1.320,0.573)" font-size="10.0" font-family="Liberation Sans, sans-serif" font-weight="bold" fill="#1a9e3c">A</text>
<text x="265.62" y="476.90" font-size="3.5" font-family="Liberation Sans, sans-serif" text-anchor="middle" font-weight="normal" fill="#111" stroke="#111" stroke-width="0.15">9</text>
<text transform="translate(269.63,469.49) scale(1.473,0.513)" font-size="10.0" font-family="Liberation Sans, sans-serif" font-weight="bold" fill="#d8202f">U</text>
<text transform="translate(269.98,471.35) scale(1.312,0.259)" font-size="10.0" font-family="Liberation Sans, sans-serif" font-weight="bold" fill="#f2a413">G</text>
<text transform="translate(269.96,472.48) scale(1.354,0.159)" font-size="10.0" font-family="Liberation Sans, sans-serif" font-weight="bold" fill="#1f5fb0">C</text>
<text x="274.94" y="476.90" font-size="3.5" font-family="Liberation Sans, sans-serif" text-anchor="middle" font-weight="normal" fill="#111" stroke="#111" stroke-width="0.15">10</text>
<text x="184.50" y="439.90" font-size="3.5" font-family="Liberation Sans, sans-serif" text-anchor="end" font-weight="normal" fill="#111" stroke="#111" stroke-width="0.15">1.2</text>
<text x="184.50" y="451.17" font-size="3.5" font-family="Liberation Sans, sans-serif" text-anchor="end" font-weight="normal" fill="#111" stroke="#111" stroke-width="0.15">0.8</text>
<text x="184.50" y="462.43" font-size="3.5" font-family="Liberation Sans, sans-serif" text-anchor="end" font-weight="normal" fill="#111" stroke="#111" stroke-width="0.15">0.4</text>
<text x="184.50" y="473.70" font-size="3.5" font-family="Liberation Sans, sans-serif" text-anchor="end" font-weight="normal" fill="#111" stroke="#111" stroke-width="0.15">0.0</text>
<text transform="translate(176.0,455.60) rotate(-90)" font-size="3.1" font-family="Liberation Sans, sans-serif" text-anchor="middle" fill="#111" stroke="#111" stroke-width="0.12">Bits</text>
<text transform="translate(187.00,519.21) scale(1.301,4.986)" font-size="10.0" font-family="Liberation Sans, sans-serif" font-weight="bold" fill="#f2a413">G</text>
<text x="191.92" y="523.80" font-size="3.5" font-family="Liberation Sans, sans-serif" text-anchor="middle" font-weight="normal" fill="#111" stroke="#111" stroke-width="0.15">1</text>
<text transform="translate(196.45,516.79) scale(1.308,3.994)" font-size="10.0" font-family="Liberation Sans, sans-serif" font-weight="bold" fill="#f2a413">A</text>
<text transform="translate(196.24,518.27) scale(1.301,0.212)" font-size="10.0" font-family="Liberation Sans, sans-serif" font-weight="bold" fill="#7fb2e8">G</text>
<text transform="translate(196.22,519.68) scale(1.343,0.199)" font-size="10.0" font-family="Liberation Sans, sans-serif" font-weight="bold" fill="#7fb2e8">C</text>
<text x="201.16" y="523.80" font-size="3.5" font-family="Liberation Sans, sans-serif" text-anchor="middle" font-weight="normal" fill="#111" stroke="#111" stroke-width="0.15">2</text>
<text transform="translate(205.48,519.21) scale(1.301,4.986)" font-size="10.0" font-family="Liberation Sans, sans-serif" font-weight="bold" fill="#f2a413">G</text>
<text x="210.40" y="523.80" font-size="3.5" font-family="Liberation Sans, sans-serif" text-anchor="middle" font-weight="normal" fill="#111" stroke="#111" stroke-width="0.15">3</text>
<text transform="translate(214.93,518.73) scale(1.308,4.708)" font-size="10.0" font-family="Liberation Sans, sans-serif" font-weight="bold" fill="#1a9e3c">A</text>
<text transform="translate(214.72,519.69) scale(1.301,0.137)" font-size="10.0" font-family="Liberation Sans, sans-serif" font-weight="bold" fill="#f2a413">G</text>
<text x="219.64" y="523.80" font-size="3.5" font-family="Liberation Sans, sans-serif" text-anchor="middle" font-weight="normal" fill="#111" stroke="#111" stroke-width="0.15">4</text>
<text transform="translate(223.96,515.59) scale(1.301,2.356)" font-size="10.0" font-family="Liberation Sans, sans-serif" font-weight="bold" fill="#f2a413">G</text>
<text transform="translate(224.17,519.70) scale(1.308,0.564)" font-size="10.0" font-family="Liberation Sans, sans-serif" font-weight="bold" fill="#1a9e3c">A</text>
<text x="228.88" y="523.80" font-size="3.5" font-family="Liberation Sans, sans-serif" text-anchor="middle" font-weight="normal" fill="#111" stroke="#111" stroke-width="0.15">5</text>
<text transform="translate(233.41,519.70) scale(1.308,5.003)" font-size="10.0" font-family="Liberation Sans, sans-serif" font-weight="bold" fill="#1a9e3c">A</text>
<text x="238.12" y="523.80" font-size="3.5" font-family="Liberation Sans, sans-serif" text-anchor="middle" font-weight="normal" fill="#111" stroke="#111" stroke-width="0.15">6</text>
<text transform="translate(242.65,519.70) scale(1.308,5.003)" font-size="10.0" font-family="Liberation Sans, sans-serif" font-weight="bold" fill="#1a9e3c">A</text>
<text x="247.36" y="523.80" font-size="3.5" font-family="Liberation Sans, sans-serif" text-anchor="middle" font-weight="normal" fill="#111" stroke="#111" stroke-width="0.15">7</text>
<text transform="translate(251.89,513.80) scale(1.308,1.483)" font-size="10.0" font-family="Liberation Sans, sans-serif" font-weight="bold" fill="#1a9e3c">A</text>
<text transform="translate(251.68,519.62) scale(1.301,0.833)" font-size="10.0" font-family="Liberation Sans, sans-serif" font-weight="bold" fill="#f2a413">G</text>
<text x="256.60" y="523.80" font-size="3.5" font-family="Liberation Sans, sans-serif" text-anchor="middle" font-weight="normal" fill="#111" stroke="#111" stroke-width="0.15">8</text>
<text transform="translate(260.90,519.21) scale(1.343,4.986)" font-size="10.0" font-family="Liberation Sans, sans-serif" font-weight="bold" fill="#1f5fb0">C</text>
<text x="265.84" y="523.80" font-size="3.5" font-family="Liberation Sans, sans-serif" text-anchor="middle" font-weight="normal" fill="#111" stroke="#111" stroke-width="0.15">9</text>
<text transform="translate(270.14,519.21) scale(1.343,4.986)" font-size="10.0" font-family="Liberation Sans, sans-serif" font-weight="bold" fill="#1f5fb0">C</text>
<text x="275.08" y="523.80" font-size="3.5" font-family="Liberation Sans, sans-serif" text-anchor="middle" font-weight="normal" fill="#111" stroke="#111" stroke-width="0.15">10</text>
<text x="184.50" y="485.60" font-size="3.5" font-family="Liberation Sans, sans-serif" text-anchor="end" font-weight="normal" fill="#111" stroke="#111" stroke-width="0.15">2.0</text>
<text x="184.50" y="494.43" font-size="3.5" font-family="Liberation Sans, sans-serif" text-anchor="end" font-weight="normal" fill="#111" stroke="#111" stroke-width="0.15">1.5</text>
<text x="184.50" y="503.25" font-size="3.5" font-family="Liberation Sans, sans-serif" text-anchor="end" font-weight="normal" fill="#111" stroke="#111" stroke-width="0.15">1.0</text>
<text x="184.50" y="512.08" font-size="3.5" font-family="Liberation Sans, sans-serif" text-anchor="end" font-weight="normal" fill="#111" stroke="#111" stroke-width="0.15">0.5</text>
<text x="184.50" y="520.90" font-size="3.5" font-family="Liberation Sans, sans-serif" text-anchor="end" font-weight="normal" fill="#111" stroke="#111" stroke-width="0.15">0.0</text>
<text transform="translate(176.0,502.05) rotate(-90)" font-size="3.1" font-family="Liberation Sans, sans-serif" text-anchor="middle" fill="#111" stroke="#111" stroke-width="0.12">Bits</text>
<text transform="translate(351.20,471.08) scale(1.814,4.680)" font-size="10.0" font-family="Liberation Sans, sans-serif" font-weight="bold" fill="#d8202f">U</text>
<text transform="translate(351.88,474.30) scale(1.625,0.401)" font-size="10.0" font-family="Liberation Sans, sans-serif" font-weight="bold" fill="#1a9e3c">A</text>
<text x="357.74" y="478.30" font-size="3.5" font-family="Liberation Sans, sans-serif" text-anchor="middle" font-weight="normal" fill="#111" stroke="#111" stroke-width="0.15">1</text>
<text transform="translate(363.10,462.41) scale(1.615,1.680)" font-size="10.0" font-family="Liberation Sans, sans-serif" font-weight="bold" fill="#f2a413">G</text>
<text transform="translate(363.08,474.14) scale(1.667,1.657)" font-size="10.0" font-family="Liberation Sans, sans-serif" font-weight="bold" fill="#1f5fb0">C</text>
<text x="369.21" y="478.30" font-size="3.5" font-family="Liberation Sans, sans-serif" text-anchor="middle" font-weight="normal" fill="#111" stroke="#111" stroke-width="0.15">2</text>
<text transform="translate(374.57,463.42) scale(1.615,1.680)" font-size="10.0" font-family="Liberation Sans, sans-serif" font-weight="bold" fill="#f2a413">G</text>
<text transform="translate(374.83,474.30) scale(1.625,1.558)" font-size="10.0" font-family="Liberation Sans, sans-serif" font-weight="bold" fill="#1a9e3c">A</text>
<text x="380.69" y="478.30" font-size="3.5" font-family="Liberation Sans, sans-serif" text-anchor="middle" font-weight="normal" fill="#111" stroke="#111" stroke-width="0.15">3</text>
<text transform="translate(386.31,470.50) scale(1.625,4.747)" font-size="10.0" font-family="Liberation Sans, sans-serif" font-weight="bold" fill="#1a9e3c">A</text>
<text transform="translate(386.03,474.25) scale(1.667,0.536)" font-size="10.0" font-family="Liberation Sans, sans-serif" font-weight="bold" fill="#1f5fb0">C</text>
<text x="392.16" y="478.30" font-size="3.5" font-family="Liberation Sans, sans-serif" text-anchor="middle" font-weight="normal" fill="#111" stroke="#111" stroke-width="0.15">4</text>
<text transform="translate(397.50,466.29) scale(1.667,2.885)" font-size="10.0" font-family="Liberation Sans, sans-serif" font-weight="bold" fill="#1f5fb0">C</text>
<text transform="translate(397.52,474.19) scale(1.615,1.092)" font-size="10.0" font-family="Liberation Sans, sans-serif" font-weight="bold" fill="#f2a413">G</text>
<text x="403.64" y="478.30" font-size="3.5" font-family="Liberation Sans, sans-serif" text-anchor="middle" font-weight="normal" fill="#111" stroke="#111" stroke-width="0.15">5</text>
<text transform="translate(409.26,467.17) scale(1.625,1.384)" font-size="10.0" font-family="Liberation Sans, sans-serif" font-weight="bold" fill="#1a9e3c">A</text>
<text transform="translate(409.00,474.20) scale(1.615,1.007)" font-size="10.0" font-family="Liberation Sans, sans-serif" font-weight="bold" fill="#f2a413">G</text>
<text x="415.11" y="478.30" font-size="3.5" font-family="Liberation Sans, sans-serif" text-anchor="middle" font-weight="normal" fill="#111" stroke="#111" stroke-width="0.15">6</text>
<text transform="translate(420.73,466.57) scale(1.625,1.153)" font-size="10.0" font-family="Liberation Sans, sans-serif" font-weight="bold" fill="#1a9e3c">A</text>
<text transform="translate(420.05,470.47) scale(1.814,0.567)" font-size="10.0" font-family="Liberation Sans, sans-serif" font-weight="bold" fill="#d8202f">U</text>
<text transform="translate(420.47,474.25) scale(1.615,0.533)" font-size="10.0" font-family="Liberation Sans, sans-serif" font-weight="bold" fill="#f2a413">G</text>
<text x="426.59" y="478.30" font-size="3.5" font-family="Liberation Sans, sans-serif" text-anchor="middle" font-weight="normal" fill="#111" stroke="#111" stroke-width="0.15">7</text>
<text transform="translate(431.93,467.27) scale(1.667,2.940)" font-size="10.0" font-family="Liberation Sans, sans-serif" font-weight="bold" fill="#1f5fb0">C</text>
<text transform="translate(431.95,474.21) scale(1.615,0.952)" font-size="10.0" font-family="Liberation Sans, sans-serif" font-weight="bold" fill="#f2a413">G</text>
<text x="438.06" y="478.30" font-size="3.5" font-family="Liberation Sans, sans-serif" text-anchor="middle" font-weight="normal" fill="#111" stroke="#111" stroke-width="0.15">8</text>
<text x="347.90" y="441.00" font-size="3.5" font-family="Liberation Sans, sans-serif" text-anchor="end" font-weight="normal" fill="#111" stroke="#111" stroke-width="0.15">1.5</text>
<text x="347.90" y="452.50" font-size="3.5" font-family="Liberation Sans, sans-serif" text-anchor="end" font-weight="normal" fill="#111" stroke="#111" stroke-width="0.15">1.0</text>
<text x="347.90" y="464.00" font-size="3.5" font-family="Liberation Sans, sans-serif" text-anchor="end" font-weight="normal" fill="#111" stroke="#111" stroke-width="0.15">0.5</text>
<text x="347.90" y="475.50" font-size="3.5" font-family="Liberation Sans, sans-serif" text-anchor="end" font-weight="normal" fill="#111" stroke="#111" stroke-width="0.15">0.0</text>
<text transform="translate(339.7,457.05) rotate(-90)" font-size="3.1" font-family="Liberation Sans, sans-serif" text-anchor="middle" fill="#111" stroke="#111" stroke-width="0.12">Bits</text>
<text transform="translate(351.90,516.57) scale(1.295,0.479)" font-size="10.0" font-family="Liberation Sans, sans-serif" font-weight="bold" fill="#f2a413">G</text>
<text transform="translate(351.56,518.43) scale(1.454,0.265)" font-size="10.0" font-family="Liberation Sans, sans-serif" font-weight="bold" fill="#d8202f">U</text>
<text transform="translate(351.88,519.98) scale(1.337,0.218)" font-size="10.0" font-family="Liberation Sans, sans-serif" font-weight="bold" fill="#1f5fb0">C</text>
<text x="356.80" y="523.90" font-size="3.5" font-family="Liberation Sans, sans-serif" text-anchor="middle" font-weight="normal" fill="#111" stroke="#111" stroke-width="0.15">1</text>
<text transform="translate(361.31,514.05) scale(1.303,2.307)" font-size="10.0" font-family="Liberation Sans, sans-serif" font-weight="bold" fill="#1a9e3c">A</text>
<text transform="translate(361.10,517.57) scale(1.295,0.505)" font-size="10.0" font-family="Liberation Sans, sans-serif" font-weight="bold" fill="#f2a413">G</text>
<text transform="translate(361.08,519.97) scale(1.337,0.336)" font-size="10.0" font-family="Liberation Sans, sans-serif" font-weight="bold" fill="#1f5fb0">C</text>
<text x="366.00" y="523.90" font-size="3.5" font-family="Liberation Sans, sans-serif" text-anchor="middle" font-weight="normal" fill="#111" stroke="#111" stroke-width="0.15">2</text>
<text transform="translate(370.51,516.04) scale(1.303,0.576)" font-size="10.0" font-family="Liberation Sans, sans-serif" font-weight="bold" fill="#1a9e3c">A</text>
<text transform="translate(370.30,518.59) scale(1.295,0.365)" font-size="10.0" font-family="Liberation Sans, sans-serif" font-weight="bold" fill="#f2a413">G</text>
<text transform="translate(369.96,519.98) scale(1.454,0.197)" font-size="10.0" font-family="Liberation Sans, sans-serif" font-weight="bold" fill="#d8202f">U</text>
<text x="375.20" y="523.90" font-size="3.5" font-family="Liberation Sans, sans-serif" text-anchor="middle" font-weight="normal" fill="#111" stroke="#111" stroke-width="0.15">3</text>
<text transform="translate(379.50,512.54) scale(1.295,1.119)" font-size="10.0" font-family="Liberation Sans, sans-serif" font-weight="bold" fill="#f2a413">G</text>
<text transform="translate(379.71,520.00) scale(1.303,1.068)" font-size="10.0" font-family="Liberation Sans, sans-serif" font-weight="bold" fill="#1a9e3c">A</text>
<text x="384.40" y="523.90" font-size="3.5" font-family="Liberation Sans, sans-serif" text-anchor="middle" font-weight="normal" fill="#111" stroke="#111" stroke-width="0.15">4</text>
<text transform="translate(388.68,515.48) scale(1.337,2.103)" font-size="10.0" font-family="Liberation Sans, sans-serif" font-weight="bold" fill="#1f5fb0">C</text>
<text transform="translate(388.91,518.15) scale(1.303,0.358)" font-size="10.0" font-family="Liberation Sans, sans-serif" font-weight="bold" fill="#1a9e3c">A</text>
<text transform="translate(388.36,519.97) scale(1.454,0.265)" font-size="10.0" font-family="Liberation Sans, sans-serif" font-weight="bold" fill="#d8202f">U</text>
<text x="393.60" y="523.90" font-size="3.5" font-family="Liberation Sans, sans-serif" text-anchor="middle" font-weight="normal" fill="#111" stroke="#111" stroke-width="0.15">5</text>
<text transform="translate(397.88,516.46) scale(1.337,1.537)" font-size="10.0" font-family="Liberation Sans, sans-serif" font-weight="bold" fill="#1f5fb0">C</text>
<text transform="translate(397.90,518.43) scale(1.295,0.261)" font-size="10.0" font-family="Liberation Sans, sans-serif" font-weight="bold" fill="#f2a413">G</text>
<text transform="translate(398.11,520.00) scale(1.303,0.224)" font-size="10.0" font-family="Liberation Sans, sans-serif" font-weight="bold" fill="#1a9e3c">A</text>
<text x="402.80" y="523.90" font-size="3.5" font-family="Liberation Sans, sans-serif" text-anchor="middle" font-weight="normal" fill="#111" stroke="#111" stroke-width="0.15">6</text>
<text transform="translate(407.08,515.23) scale(1.337,0.505)" font-size="10.0" font-family="Liberation Sans, sans-serif" font-weight="bold" fill="#1f5fb0">C</text>
<text transform="translate(407.10,517.71) scale(1.295,0.348)" font-size="10.0" font-family="Liberation Sans, sans-serif" font-weight="bold" fill="#f2a413">G</text>
<text transform="translate(407.31,520.00) scale(1.303,0.328)" font-size="10.0" font-family="Liberation Sans, sans-serif" font-weight="bold" fill="#1a9e3c">A</text>
<text x="412.00" y="523.90" font-size="3.5" font-family="Liberation Sans, sans-serif" text-anchor="middle" font-weight="normal" fill="#111" stroke="#111" stroke-width="0.15">7</text>
<text transform="translate(415.96,518.08) scale(1.454,4.914)" font-size="10.0" font-family="Liberation Sans, sans-serif" font-weight="bold" fill="#d8202f">U</text>
<text transform="translate(416.51,520.00) scale(1.303,0.209)" font-size="10.0" font-family="Liberation Sans, sans-serif" font-weight="bold" fill="#1a9e3c">A</text>
<text x="421.20" y="523.90" font-size="3.5" font-family="Liberation Sans, sans-serif" text-anchor="middle" font-weight="normal" fill="#111" stroke="#111" stroke-width="0.15">8</text>
<text transform="translate(425.71,518.67) scale(1.303,4.614)" font-size="10.0" font-family="Liberation Sans, sans-serif" font-weight="bold" fill="#1a9e3c">A</text>
<text transform="translate(425.48,519.98) scale(1.337,0.189)" font-size="10.0" font-family="Liberation Sans, sans-serif" font-weight="bold" fill="#1f5fb0">C</text>
<text x="430.40" y="523.90" font-size="3.5" font-family="Liberation Sans, sans-serif" text-anchor="middle" font-weight="normal" fill="#111" stroke="#111" stroke-width="0.15">9</text>
<text transform="translate(434.36,516.05) scale(1.454,0.483)" font-size="10.0" font-family="Liberation Sans, sans-serif" font-weight="bold" fill="#d8202f">U</text>
<text transform="translate(434.68,518.12) scale(1.337,0.290)" font-size="10.0" font-family="Liberation Sans, sans-serif" font-weight="bold" fill="#1f5fb0">C</text>
<text transform="translate(434.70,519.97) scale(1.295,0.261)" font-size="10.0" font-family="Liberation Sans, sans-serif" font-weight="bold" fill="#f2a413">G</text>
<text x="439.60" y="523.90" font-size="3.5" font-family="Liberation Sans, sans-serif" text-anchor="middle" font-weight="normal" fill="#111" stroke="#111" stroke-width="0.15">10</text>
<text x="347.90" y="490.40" font-size="3.5" font-family="Liberation Sans, sans-serif" text-anchor="end" font-weight="normal" fill="#111" stroke="#111" stroke-width="0.15">1.5</text>
<text x="347.90" y="500.67" font-size="3.5" font-family="Liberation Sans, sans-serif" text-anchor="end" font-weight="normal" fill="#111" stroke="#111" stroke-width="0.15">1.0</text>
<text x="347.90" y="510.93" font-size="3.5" font-family="Liberation Sans, sans-serif" text-anchor="end" font-weight="normal" fill="#111" stroke="#111" stroke-width="0.15">0.5</text>
<text x="347.90" y="521.20" font-size="3.5" font-family="Liberation Sans, sans-serif" text-anchor="end" font-weight="normal" fill="#111" stroke="#111" stroke-width="0.15">0.0</text>
<text transform="translate(339.7,504.60) rotate(-90)" font-size="3.1" font-family="Liberation Sans, sans-serif" text-anchor="middle" fill="#111" stroke="#111" stroke-width="0.12">Bits</text>
<text x="65.00" y="423.40" font-size="11.3" font-family="Liberation Serif, serif" text-anchor="middle" font-weight="normal" fill="#111" >Motifs</text>
<text x="143.0" y="423.4" font-size="11.3" font-family="Liberation Serif, serif" text-anchor="middle" fill="#111"><tspan font-style="italic">p</tspan> value</text>
<text x="231.00" y="424.60" font-size="11.3" font-family="Liberation Serif, serif" text-anchor="middle" font-weight="normal" fill="#111" >Motifs</text>
<text x="301.4" y="423.4" font-size="11.3" font-family="Liberation Serif, serif" text-anchor="middle" fill="#111"><tspan font-style="italic">p</tspan> value</text>
<text x="385.90" y="424.60" font-size="11.3" font-family="Liberation Serif, serif" text-anchor="middle" font-weight="normal" fill="#111" >Motifs</text>
<text x="466.0" y="422.6" font-size="11.3" font-family="Liberation Serif, serif" text-anchor="middle" fill="#111"><tspan font-style="italic">p</tspan> value</text>
<text x="117.0" y="464.5" font-size="14.1" font-family="Liberation Serif, serif" fill="#111">1 × 10<tspan font-size="9.2" dy="-4.5">-183</tspan></text>
<text x="117.0" y="511.0" font-size="14.1" font-family="Liberation Serif, serif" fill="#111">1 × 10<tspan font-size="9.2" dy="-4.5">-112</tspan></text>
<text x="280.2" y="464.5" font-size="14.1" font-family="Liberation Serif, serif" fill="#111">1 × 10<tspan font-size="9.2" dy="-4.5">-102</tspan></text>
<text x="282.6" y="508.9" font-size="14.1" font-family="Liberation Serif, serif" fill="#111">1 × 10<tspan font-size="9.2" dy="-4.5">-51</tspan></text>
<text x="446.6" y="464.5" font-size="14.1" font-family="Liberation Serif, serif" fill="#111">1 × 10<tspan font-size="9.2" dy="-4.5">-139</tspan></text>
<text x="448.2" y="510.0" font-size="14.1" font-family="Liberation Serif, serif" fill="#111">1 × 10<tspan font-size="9.2" dy="-4.5">-139</tspan></text>
<text x="63.00" y="546.30" font-size="15.2" font-family="Liberation Serif, serif" text-anchor="middle" font-weight="normal" fill="#111" >D1</text>
<text x="225.10" y="546.30" font-size="15.1" font-family="Liberation Serif, serif" text-anchor="middle" font-weight="normal" fill="#111" >D75</text>
<text x="394.00" y="545.50" font-size="15.1" font-family="Liberation Serif, serif" text-anchor="middle" font-weight="normal" fill="#111" >D150</text>
</svg>
</body></html>
